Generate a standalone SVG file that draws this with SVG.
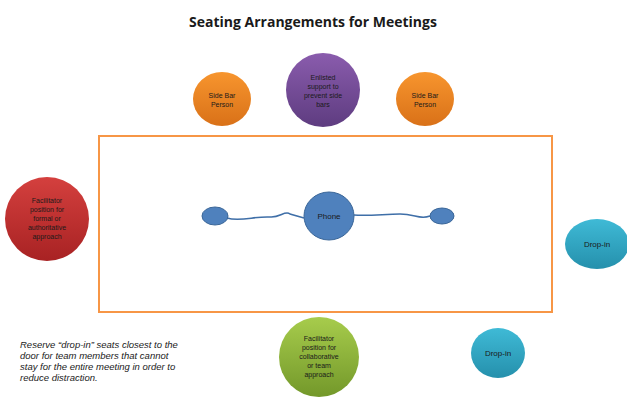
<svg xmlns="http://www.w3.org/2000/svg" width="627" height="415" viewBox="0 0 627 415">
<style>
text{font-family:"Liberation Sans",Arial,sans-serif;fill:#1a1a1a;text-anchor:middle}
.s{font-size:7px}.m{font-size:8px}
.n{stroke-width:1}
</style>
<defs>
<linearGradient id="or" x1="0" y1="0" x2="0" y2="1"><stop offset="0" stop-color="#f7952e"/><stop offset="1" stop-color="#d97118"/></linearGradient>
<linearGradient id="pu" x1="0" y1="0" x2="0" y2="1"><stop offset="0" stop-color="#8a5cad"/><stop offset="1" stop-color="#5e3c80"/></linearGradient>
<linearGradient id="rd" x1="0" y1="0" x2="0" y2="1"><stop offset="0" stop-color="#d4403e"/><stop offset="1" stop-color="#a82223"/></linearGradient>
<linearGradient id="gr" x1="0" y1="0" x2="0" y2="1"><stop offset="0" stop-color="#a7cc4c"/><stop offset="1" stop-color="#73982a"/></linearGradient>
<linearGradient id="cy" x1="0" y1="0" x2="0" y2="1"><stop offset="0" stop-color="#3fbad6"/><stop offset="1" stop-color="#2590ac"/></linearGradient>
</defs>
<rect width="627" height="415" fill="#fff"/>
<text x="313" y="27" style="font-family:'Open Sans','DejaVu Sans',sans-serif;font-weight:bold;font-size:14px">Seating Arrangements for Meetings</text>
<rect x="99" y="136" width="453" height="176" fill="none" stroke="#f79646" stroke-width="2"/>
<g id="connectors" fill="none" stroke="#3f6fa8" stroke-width="1.5">
<path d="M227,218 C240,222 255,216 270,217 C280,218 285,210 290,214 L304,218"/>
<path d="M354,215 C370,216 385,214 400,214 C415,214 420,220 430,216"/>
</g>
<g id="sidebar-left"><ellipse cx="222" cy="99" rx="29" ry="27" fill="url(#or)"/><text class="s" x="222" y="98">Side Bar</text><text class="s" x="222" y="107">Person</text></g>
<g id="enlisted"><circle cx="323" cy="90" r="37" fill="url(#pu)"/><text class="s" x="323" y="80">Enlisted</text><text class="s" x="323" y="89">support to</text><text class="s" x="323" y="98">prevent side</text><text class="s" x="323" y="107">bars</text></g>
<g id="sidebar-right"><ellipse cx="425" cy="99" rx="29" ry="27" fill="url(#or)"/><text class="s" x="425" y="98">Side Bar</text><text class="s" x="425" y="107">Person</text></g>
<g id="facilitator-formal"><circle cx="47" cy="219" r="42" fill="url(#rd)"/><text class="s" x="47" y="203">Facilitator</text><text class="s" x="47" y="212">position for</text><text class="s" x="47" y="221">formal or</text><text class="s" x="47" y="230">authoritative</text><text class="s" x="47" y="239">approach</text></g>
<g id="phone-left"><ellipse cx="215" cy="216" rx="13" ry="9" fill="#4f81bd" stroke="#3a6698"/></g>
<g id="phone"><ellipse cx="329" cy="216" rx="25" ry="24" fill="#4f81bd" stroke="#3a6698"/><text class="m" x="329" y="219">Phone</text></g>
<g id="phone-right"><ellipse cx="442" cy="216" rx="12" ry="8" fill="#4f81bd" stroke="#3a6698"/></g>
<g id="dropin-right"><ellipse cx="597" cy="244" rx="32" ry="25" fill="url(#cy)"/><text class="m" x="597" y="247">Drop-in</text></g>
<g id="dropin-bottom"><ellipse cx="498" cy="353" rx="27" ry="25" fill="url(#cy)"/><text class="m" x="498" y="356">Drop-in</text></g>
<g id="facilitator-collab"><circle cx="319" cy="357" r="40" fill="url(#gr)"/><text class="s" x="319" y="341">Facilitator</text><text class="s" x="319" y="350">position for</text><text class="s" x="319" y="359">collaborative</text><text class="s" x="319" y="368">or team</text><text class="s" x="319" y="377">approach</text></g>
<g style="font-style:italic;font-size:9.5px"><text x="20" y="348" style="text-anchor:start">Reserve “drop-in” seats closest to the</text><text x="20" y="359" style="text-anchor:start">door for team members that cannot</text><text x="20" y="370" style="text-anchor:start">stay for the entire meeting in order to</text><text x="20" y="381" style="text-anchor:start">reduce distraction.</text></g>
</svg>
